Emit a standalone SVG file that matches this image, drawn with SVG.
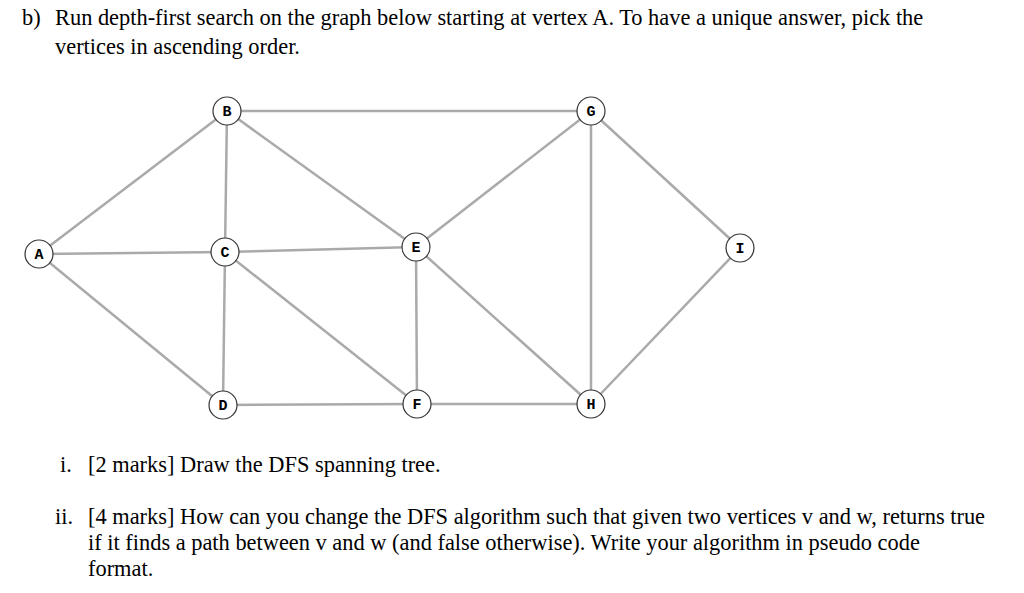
<svg xmlns="http://www.w3.org/2000/svg" width="1024" height="593" viewBox="0 0 1024 593">
<style>
.t{font-family:"Liberation Serif",serif;font-size:22.4px;fill:#000}
.e line{stroke:#aaa;stroke-width:2.5}
.n circle{fill:#fff;stroke:#333;stroke-width:1.2}
.n text{font-family:"Liberation Mono","DejaVu Sans Mono",monospace;font-weight:bold;font-size:15px;text-anchor:middle;fill:#000}
</style>
<rect width="1024" height="593" fill="#fff"/>
<text class="t" x="22" y="25">b)</text>
<text class="t" x="55" y="25">Run depth-first search on the graph below starting at vertex A. To have a unique answer, pick the</text>
<text class="t" x="55" y="54">vertices in ascending order.</text>
<g class="e" id="edges">
<line x1="39" y1="254" x2="227" y2="111"/>
<line x1="39" y1="254" x2="225" y2="252"/>
<line x1="39" y1="254" x2="223" y2="405"/>
<line x1="227" y1="111" x2="225" y2="252"/>
<line x1="227" y1="111" x2="416" y2="247"/>
<line x1="227" y1="111" x2="591" y2="111"/>
<line x1="225" y1="252" x2="416" y2="247"/>
<line x1="225" y1="252" x2="223" y2="405"/>
<line x1="225" y1="252" x2="417" y2="404"/>
<line x1="223" y1="405" x2="417" y2="404"/>
<line x1="416" y1="247" x2="417" y2="404"/>
<line x1="416" y1="247" x2="591" y2="111"/>
<line x1="416" y1="247" x2="591" y2="404"/>
<line x1="417" y1="404" x2="591" y2="404"/>
<line x1="591" y1="111" x2="591" y2="404"/>
<line x1="591" y1="111" x2="740" y2="248"/>
<line x1="740" y1="248" x2="591" y2="404"/>
</g>
<g class="n" id="A"><circle cx="39" cy="254" r="14"/><text x="39" y="259">A</text></g>
<g class="n" id="B"><circle cx="227" cy="111" r="14"/><text x="227" y="116">B</text></g>
<g class="n" id="C"><circle cx="225" cy="252" r="14"/><text x="225" y="257">C</text></g>
<g class="n" id="D"><circle cx="223" cy="405" r="14"/><text x="223" y="410">D</text></g>
<g class="n" id="E"><circle cx="416" cy="247" r="14"/><text x="416" y="252">E</text></g>
<g class="n" id="F"><circle cx="417" cy="404" r="14"/><text x="417" y="409">F</text></g>
<g class="n" id="G"><circle cx="591" cy="111" r="14"/><text x="591" y="116">G</text></g>
<g class="n" id="H"><circle cx="591" cy="404" r="14"/><text x="591" y="409">H</text></g>
<g class="n" id="I"><circle cx="740" cy="248" r="14"/><text x="740" y="253">I</text></g>
<text class="t" x="60" y="472">i.</text>
<text class="t" x="88" y="472">[2 marks] Draw the DFS spanning tree.</text>
<text class="t" x="55" y="524">ii.</text>
<text class="t" x="88" y="524">[4 marks] How can you change the DFS algorithm such that given two vertices v and w, returns true</text>
<text class="t" x="88" y="550">if it finds a path between v and w (and false otherwise). Write your algorithm in pseudo code</text>
<text class="t" x="88" y="576">format.</text>
</svg>
